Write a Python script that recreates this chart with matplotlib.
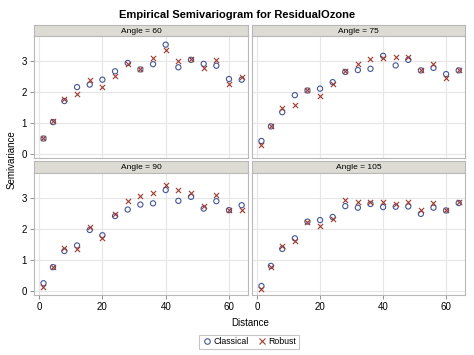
import matplotlib
matplotlib.use("Agg")
import matplotlib.pyplot as plt
from matplotlib.lines import Line2D

plt.rcParams["font.family"] = ["Liberation Sans", "DejaVu Sans"]

distance = [1.4, 4.4, 8, 12, 16, 20, 24, 28, 32, 36, 40, 44, 48, 52, 56, 60, 64]
angles = [60, 75, 90, 105]

classical = {
    60: [0.49, 1.02, 1.70, 2.15, 2.23, 2.39, 2.66, 2.93, 2.72, 2.89, 3.52,
         2.79, 3.03, 2.90, 2.84, 2.41, 2.39],
    75: [0.41, 0.88, 1.34, 1.89, 2.04, 2.10, 2.31, 2.64, 2.70, 2.74, 3.16,
         2.85, 3.03, 2.69, 2.77, 2.57, 2.69],
    90: [0.24, 0.76, 1.28, 1.46, 1.96, 1.79, 2.41, 2.62, 2.78, 2.82, 3.25,
         2.90, 3.03, 2.65, 2.89, 2.60, 2.76],
    105: [0.15, 0.80, 1.35, 1.69, 2.23, 2.28, 2.38, 2.73, 2.68, 2.80, 2.70,
          2.71, 2.72, 2.48, 2.68, 2.59, 2.83],
}
robust = {
    60: [0.49, 1.06, 1.75, 1.94, 2.38, 2.14, 2.52, 2.90, 2.74, 3.09, 3.35,
         2.98, 3.05, 2.77, 3.01, 2.24, 2.47],
    75: [0.27, 0.88, 1.49, 1.56, 2.05, 1.87, 2.24, 2.68, 2.88, 3.06, 3.09,
         3.13, 3.12, 2.69, 2.89, 2.44, 2.69],
    90: [0.11, 0.76, 1.37, 1.35, 2.07, 1.69, 2.46, 2.91, 3.06, 3.14, 3.41,
         3.24, 3.17, 2.75, 3.10, 2.60, 2.59],
    105: [0.05, 0.78, 1.45, 1.60, 2.23, 2.08, 2.32, 2.92, 2.85, 2.87, 2.85,
          2.81, 2.85, 2.60, 2.82, 2.59, 2.87],
}

W, H = 474, 355
blue = "#445694"
red = "#A23A2E"
border = "#b8b8b8"
header_fill = "#dcdcd4"

fig = plt.figure(figsize=(W / 100, H / 100), dpi=100)

cols = [(34, 248), (252, 465)]
rows = [(25, 36, 158), (161, 173, 295)]


def fig_box(x0, y0, x1, y1):
    return [x0 / W, 1 - y1 / H, (x1 - x0) / W, (y1 - y0) / H]


for k, angle in enumerate(angles):
    r, c = divmod(k, 2)
    x0, x1 = cols[c]
    h0, p0, p1 = rows[r]

    # panel header strip
    hax = fig.add_axes(fig_box(x0, h0, x1, p0))
    hax.set_facecolor(header_fill)
    hax.set_xticks([])
    hax.set_yticks([])
    for s in hax.spines.values():
        s.set_color(border)
        s.set_linewidth(0.8)
    hax.text(0.5, 0.45, f"Angle = {angle}", ha="center", va="center",
             fontsize=6, transform=hax.transAxes)

    ax = fig.add_axes(fig_box(x0, p0, x1, p1))
    ax.scatter(distance, classical[angle], s=14, facecolors="none",
               edgecolors=blue, linewidths=0.8, zorder=3)
    ax.scatter(distance, robust[angle], s=14, marker="x", color=red,
               linewidths=0.8, zorder=3)
    ax.set_xlim(-1.6, 66)
    ax.set_ylim(-0.14, 3.8)
    ax.set_xticks([0, 20, 40, 60])
    ax.set_yticks([0, 1, 2, 3])
    ax.grid(color="#e6e6e6", linewidth=0.8)
    ax.set_axisbelow(True)
    for s in ax.spines.values():
        s.set_color(border)
        s.set_linewidth(0.8)
    ax.tick_params(length=3, width=0.6, color="#808080", labelsize=7,
                   pad=2)
    if c == 1:
        ax.tick_params(labelleft=False, left=False)
    if r == 0:
        ax.tick_params(labelbottom=False, bottom=False)

fig.text(0.5, 1 - 15 / H, "Empirical Semivariogram for ResidualOzone",
         ha="center", va="center", fontsize=8, fontweight="bold")
fig.text(12 / W, 1 - 160 / H, "Semivariance", rotation=90, ha="center",
         va="center", fontsize=7)
fig.text(250 / W, 1 - 323 / H, "Distance", ha="center", va="center",
         fontsize=7)

handles = [
    Line2D([], [], marker="o", linestyle="none", markerfacecolor="none",
           markeredgecolor=blue, markersize=4, markeredgewidth=0.8,
           label="Classical"),
    Line2D([], [], marker="x", linestyle="none", color=red, markersize=4,
           markeredgewidth=0.8, label="Robust"),
]
leg = fig.legend(handles=handles, loc="center", ncol=2,
                 bbox_to_anchor=(249 / W, 1 - 342 / H), fontsize=6.3,
                 frameon=True, fancybox=False, handletextpad=0.2,
                 columnspacing=0.8, borderpad=0.3, handlelength=1.2)
leg.get_frame().set_edgecolor(border)
leg.get_frame().set_linewidth(0.8)

fig.savefig("out.png", dpi=100)
